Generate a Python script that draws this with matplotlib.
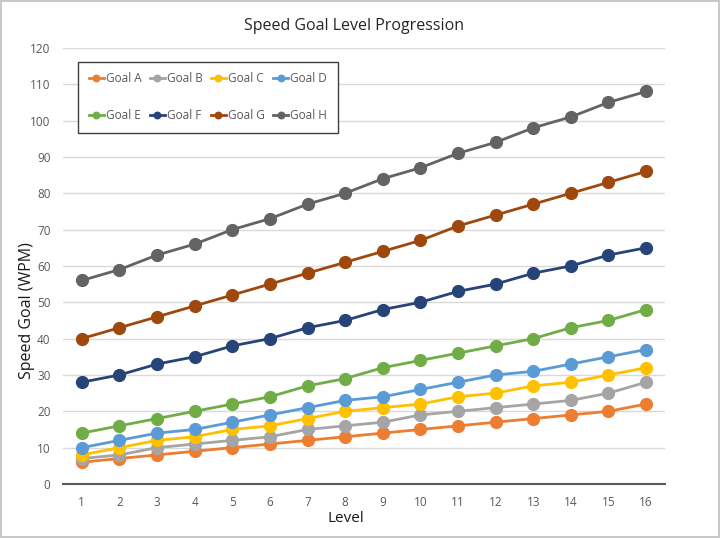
import matplotlib
matplotlib.use("Agg")
import matplotlib.pyplot as plt

plt.rcParams['font.family'] = ['Open Sans', 'DejaVu Sans']

levels = list(range(1, 17))
goal_a = [6, 7, 8, 9, 10, 11, 12, 13, 14, 15, 16, 17, 18, 19, 20, 22]
goal_b = [7, 8, 10, 11, 12, 13, 15, 16, 17, 19, 20, 21, 22, 23, 25, 28]
goal_c = [8, 10, 12, 13, 15, 16, 18, 20, 21, 22, 24, 25, 27, 28, 30, 32]
goal_d = [10, 12, 14, 15, 17, 19, 21, 23, 24, 26, 28, 30, 31, 33, 35, 37]
goal_e = [14, 16, 18, 20, 22, 24, 27, 29, 32, 34, 36, 38, 40, 43, 45, 48]
goal_f = [28, 30, 33, 35, 38, 40, 43, 45, 48, 50, 53, 55, 58, 60, 63, 65]
goal_g = [40, 43, 46, 49, 52, 55, 58, 61, 64, 67, 71, 74, 77, 80, 83, 86]
goal_h = [56, 59, 63, 66, 70, 73, 77, 80, 84, 87, 91, 94, 98, 101, 105, 108]

names = ["Goal A", "Goal B", "Goal C", "Goal D", "Goal E", "Goal F", "Goal G", "Goal H"]
series = [goal_a, goal_b, goal_c, goal_d, goal_e, goal_f, goal_g, goal_h]
colors = ["#ED7D31", "#A5A5A5", "#FFC000", "#5B9BD5",
          "#70AD47", "#264478", "#9E480E", "#636363"]

fig = plt.figure(figsize=(7.2, 5.38), dpi=100)
fig.patch.set_edgecolor("#c8c8c8")
fig.patch.set_linewidth(1.5)
ax = fig.add_axes([0.0875, 0.1004, 0.836, 0.8106])

lines = []
for name, vals, c in zip(names, series, colors):
    ln, = ax.plot(levels, vals, color=c, lw=2, marker="o", ms=8.5, label=name, zorder=3)
    lines.append(ln)

ax.set_xlim(0.5, 16.5)
ax.set_ylim(0, 120)
ax.set_xticks(levels)
ax.set_yticks(range(0, 121, 10))
ax.grid(axis="y", color="#d9d9d9", lw=1)
ax.set_axisbelow(True)
for s in ["left", "right", "top"]:
    ax.spines[s].set_visible(False)
ax.spines["bottom"].set_color("#595959")
ax.spines["bottom"].set_linewidth(1.5)
ax.spines["bottom"].set_zorder(4)
ax.tick_params(length=0, labelsize=8.5, labelcolor="#595959", pad=9)

ax.set_title("Speed Goal Level Progression", fontsize=11.5, color="#262626", pad=13, x=0.483)
ax.set_ylabel("Speed Goal (WPM)", fontsize=11.5, color="#1a1a1a")
ax.yaxis.set_label_coords(-0.047, 0.397)
ax.set_xlabel("Level", fontsize=11, color="#1a1a1a")
ax.xaxis.set_label_coords(0.47, -0.062)

# legend filled row by row: A B C D / E F G H
order = [0, 4, 1, 5, 2, 6, 3, 7]
leg = ax.legend([lines[i] for i in order], [names[i] for i in order],
                ncol=4, loc="upper left", bbox_to_anchor=(0.025, 0.968),
                borderaxespad=0, fontsize=8.5, markerscale=0.55, handlelength=1.3,
                handletextpad=0.15, columnspacing=0.7, labelspacing=2.0,
                fancybox=False, framealpha=1, edgecolor="#404040",
                borderpad=0.9)
leg.get_frame().set_linewidth(1)
for t in leg.get_texts():
    t.set_color("#595959")

fig.savefig("out.png", dpi=100, edgecolor=fig.get_edgecolor())
